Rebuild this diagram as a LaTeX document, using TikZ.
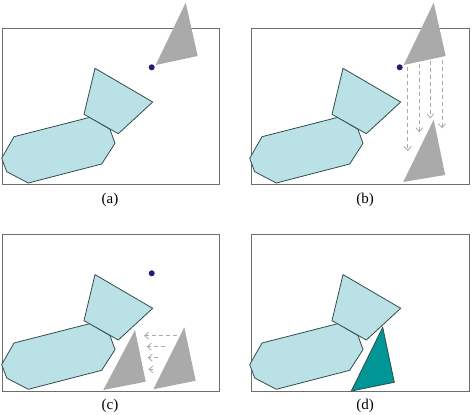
\documentclass[tikz,border=0pt]{standalone}
\usepackage{fontspec}
\setmainfont{Liberation Serif}
\usetikzlibrary{arrows.meta}
\definecolor{linkblue}{RGB}{186,225,229}
\definecolor{linkedge}{RGB}{50,75,75}
\definecolor{toolgrey}{RGB}{170,170,170}
\definecolor{framegrey}{RGB}{110,110,110}
\definecolor{dotblue}{RGB}{30,30,120}
\definecolor{wedgeteal}{RGB}{0,150,150}

% the two links, same in every panel
\newcommand{\drawlinks}{%
 \draw[link] (14,136.7)--(90,117.3)--(110,129.3)--(115,143.3)--(101.7,164)--(28.3,183)--(6.7,171.7)--(1.7,158.3)--cycle;
 \draw[link] (95,68.3)--(152.7,102)--(118.3,133.7)--(84,114.3)--cycle;
}

\begin{document}
\begin{tikzpicture}[x=1pt,y=-1pt,
 frame/.style={draw=framegrey,line width=0.9pt},
 link/.style={fill=linkblue,draw=linkedge,line width=0.8pt,line join=round},
 tool/.style={fill=toolgrey},
 dot/.style={circle,fill=dotblue,inner sep=0pt,minimum size=6pt},
 move/.style={draw=toolgrey,line width=0.8pt,dash pattern=on 4pt off 3pt,-{Straight Barb[length=4pt,width=7pt]}},
 caption/.style={font=\fontsize{15}{18}\selectfont}]
 \useasboundingbox (0,0) rectangle (474,415);
 % (a)
 \draw[frame] (2.7,28) rectangle (219,184);
 \drawlinks
 \fill[tool] (185.7,2.7)--(197.7,56)--(155.7,65)--cycle;
 \node[dot] (dota) at (151.7,67.3) {};
 \node[caption] (capa) at (110,200) {(a)};
 % (b)
 \begin{scope}[shift={(248,0)}]
  \draw[frame] (3.3,28) rectangle (221.3,184);
  \drawlinks
  \fill[tool] (185.7,2.7)--(197.7,56)--(155.7,65)--cycle;
  \fill[tool] (185.7,119.7)--(197.2,175)--(155.2,182)--cycle;
  \node[dot] (dotb) at (151.7,67.3) {};
  \draw[move] (159.7,67)--(159.7,151);
  \draw[move] (171.3,64.3)--(171.3,132.3);
  \draw[move] (182.3,61)--(182.3,118.3);
  \draw[move] (194,60)--(194,128.3);
 \end{scope}
 \node[caption] (capb) at (365,200) {(b)};
 % (c)
 \begin{scope}[shift={(0,206.3)}]
  \draw[frame] (2.7,28) rectangle (219.3,185.4);
  \drawlinks
  \fill[tool] (135,123.7)--(145.7,175.4)--(103.3,183.7)--cycle;
  \fill[tool] (184.3,121)--(195.7,174.4)--(153.3,183)--cycle;
  \node[dot] (dotc) at (151.7,67) {};
  \draw[move] (176.7,129.4)--(144,129.4);
  \draw[move] (165,140.4)--(146.7,140.4);
  \draw[move] (158.3,151.4)--(147.7,151.4);
  \draw[move] (153,163)--(148.5,163);
 \end{scope}
 \node[caption] (capc) at (110,406) {(c)};
 % (d)
 \begin{scope}[shift={(248,206.3)}]
  \draw[frame] (3.3,28) rectangle (221.3,185.4);
  \drawlinks
  \draw[fill=wedgeteal,draw=linkedge,line width=0.8pt] (134.7,121)--(146.3,176)--(103.3,184.7)--cycle;
 \end{scope}
 \node[caption] (capd) at (365,406) {(d)};
\end{tikzpicture}
\end{document}
